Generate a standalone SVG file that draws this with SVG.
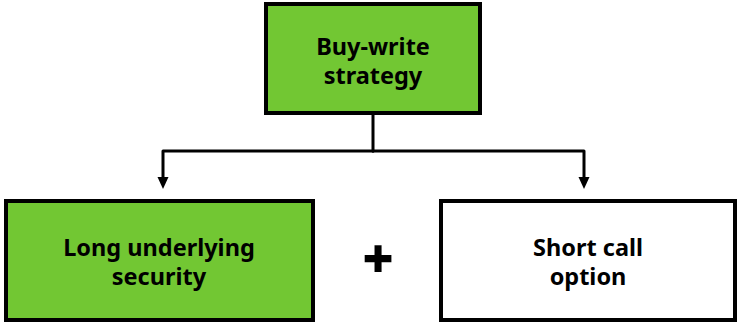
<svg xmlns="http://www.w3.org/2000/svg" width="740" height="325" viewBox="0 0 740 325">
<style>
.box{stroke:#000;stroke-width:4}
.g{fill:#72c733}
.w{fill:#fff}
.t{font-family:"Noto Sans","DejaVu Sans",sans-serif;font-weight:bold;font-size:23.5px;text-anchor:middle;fill:#000}
.c{fill:none;stroke:#000;stroke-width:3;stroke-linejoin:round;stroke-linecap:round}
</style>
<defs>
<marker id="ah" markerWidth="12" markerHeight="12" refX="0" refY="5.5" orient="auto" markerUnits="userSpaceOnUse" viewBox="0 0 12 11">
<path d="M0,0 L12,5.5 L0,11 Z" fill="#000"/>
</marker>
</defs>
<rect width="740" height="325" fill="#fff"/>
<g id="connectors">
<path class="c" d="M373,114 V151"/>
<path class="c" d="M373,151 H163 V177" marker-end="url(#ah)"/>
<path class="c" d="M373,151 H584 V177" marker-end="url(#ah)"/>
</g>
<g id="top">
<rect class="box g" x="266" y="4" width="214" height="109"/>
<text class="t" x="373" y="55">Buy-write</text>
<text class="t" x="373" y="84">strategy</text>
</g>
<g id="left">
<rect class="box g" x="6" y="201" width="307" height="119"/>
<text class="t" x="159" y="256">Long underlying</text>
<text class="t" x="159" y="285">security</text>
</g>
<g id="plus">
<text x="378" y="278" style="font-family:'Noto Sans','DejaVu Sans',sans-serif;font-weight:900;font-size:54px;text-anchor:middle;fill:#000">+</text>
</g>
<g id="right">
<rect class="box w" x="441" y="201" width="294" height="119"/>
<text class="t" x="588" y="256">Short call</text>
<text class="t" x="588" y="285">option</text>
</g>
</svg>
